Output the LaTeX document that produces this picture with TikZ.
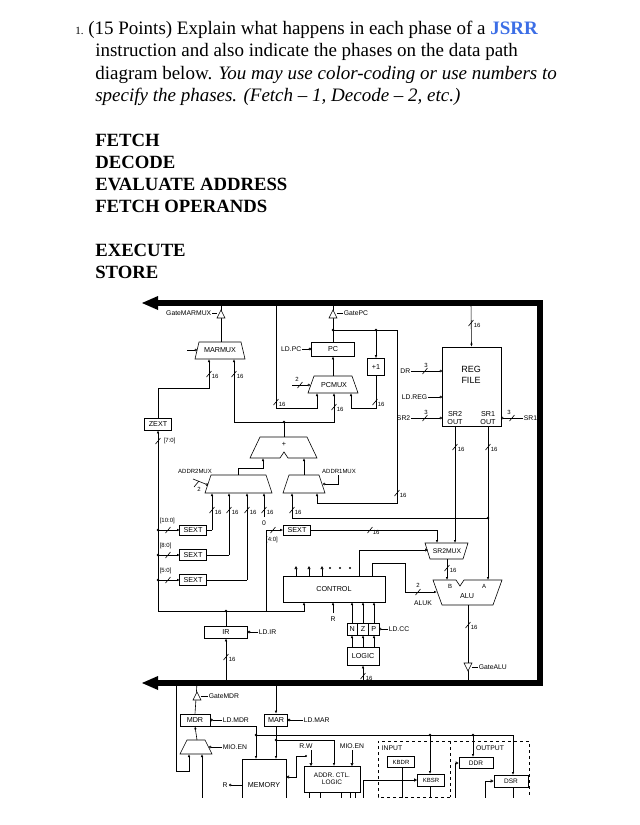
\documentclass[tikz,border=0pt]{standalone}
\usepackage{fontspec}
\setmainfont{Liberation Serif}
\newfontfamily\dgf{Liberation Sans}
\usetikzlibrary{arrows.meta}
\definecolor{jblue}{RGB}{60,110,230}
\newcommand\bwid[3]{\draw (#1,#2)+(-2.5,3)--+(2.5,-3); \path (#1,#2) node[wl,anchor=west,xshift=2pt,yshift=-2pt]{#3};}
\newcommand\gup[2]{\draw[fill=white] (#1-4,#2+4)--(#1+4,#2+4)--(#1,#2-4)--cycle;}
\newcommand\gdn[2]{\draw[fill=white] (#1-4,#2-4)--(#1+4,#2-4)--(#1,#2+4)--cycle;}
\begin{document}
\begin{tikzpicture}[x=1pt,y=-1pt,line width=0.6pt,
 lbl/.style={font=\dgf\fontsize{6.8}{7.5}\selectfont,inner sep=0.5pt},
 wl/.style={font=\dgf\fontsize{6}{6.5}\selectfont,inner sep=0.5pt},
 box/.style={draw,font=\dgf\fontsize{7.2}{8}\selectfont,inner sep=0pt},
 ar/.style={-{Latex[length=3pt,width=2.5pt]}},
 oc/.style={-{Circle[open,length=2.6pt,width=2.6pt]}},
 ot/.style={-{Triangle[open,length=3pt,width=3pt]}},
 hd/.style={font=\fontsize{19}{22}\selectfont,anchor=west,inner sep=0pt},
 st/.style={font=\bfseries\fontsize{18.7}{21}\selectfont,anchor=west,inner sep=0pt}]
\useasboundingbox (0,0) rectangle (640,825);
\fill[white] (0,0) rectangle (640,825);
% heading
\node[anchor=west,inner sep=0pt,font=\fontsize{11}{12}\selectfont] (n1) at (75,31) {1.};
\node[hd] (h1) at (88,30) {(15 Points) Explain what happens in each phase of a \textcolor{jblue}{\textbf{JSRR}}};
\node[hd] (h2) at (95,52) {instruction and also indicate the phases on the data path};
\node[hd] (h3) at (95,75) {diagram below. \textit{You may use color-coding or use numbers to}};
\node[hd] (h4) at (95,97) {\textit{specify the phases. (Fetch -- 1, Decode -- 2, etc.)}};
\node[st] (s1) at (95,140) {FETCH};
\node[st] (s2) at (95,162) {DECODE};
\node[st] (s3) at (95,184) {EVALUATE ADDRESS};
\node[st] (s4) at (95,206) {FETCH OPERANDS};
\node[st] (s5) at (95,250) {EXECUTE};
\node[st] (s6) at (95,272) {STORE};
% bus
\draw[line width=5.5pt] (152,303)--(540,303)--(540,683)--(152,683);
\fill (142,303)--(158,296)--(158,310)--cycle;
\fill (142,683)--(158,676)--(158,690)--cycle;
% MARMUX
\draw (195,359)--(199,342)--(241,342)--(245,359)--cycle;
\node[box,draw=none] (marmux) at (220,350.5) {MARMUX};
\draw (221,303)--(221,342); \gup{221}{314}
\node[lbl,anchor=east] (gmm) at (212,313) {GateMARMUX}; \draw (212,313)--(217,313);
\draw[oc] (187,350)--(197,350);
\node[box,minimum width=27pt,minimum height=12pt] (zext) at (158,424) {ZEXT};
\draw[ar] (zext.north)--(158,388)--(209,388)--(209,359); \bwid{209}{374}{16}
\draw[ar] (284,422)--(234,422)--(234,359); \bwid{234}{374}{16}
% PC
\node[box,minimum width=43pt,minimum height=14pt] (pc) at (333,349) {PC};
\draw (333,303)--(pc.north); \gup{333}{314}
\node[lbl,anchor=west] (gpc) at (343,313) {GatePC}; \draw (337,313)--(343,313);
\node[lbl,anchor=east] (ldpc) at (302,349) {LD.PC}; \draw[oc] (302,349)--(pc.west);
\node[box,minimum width=17pt,minimum height=17pt] (p1) at (376,367) {+1};
\fill (333,330) circle (1.4); \fill (376,330) circle (1.4);
\draw (333,330)--(397,330)--(397,503)--(317,503); \draw[ar] (317,503)--(317,493); \bwid{397}{493}{16}
\draw[ar] (376,330)--(p1.north);
\draw (308,393)--(314,376)--(352,376)--(358,393)--cycle;
\node[box,draw=none] (pcmux) at (334,385) {PCMUX};
\draw[ar] (333,376)--(pc.south);
\draw[oc] (292,385)--(310,385); \bwid{300}{385}{}\node[wl] at (297,379){2};
\draw[ar] (p1.south)--(376,408)--(351,408)--(351,393); \bwid{375}{402}{16}
\draw[ar] (276,303)--(276,408)--(317,408)--(317,393); \bwid{276}{402}{16}
\draw[ar] (284,422)--(334,422)--(334,393); \bwid{334}{407}{16}
\fill (284,422) circle (1.4);
% adder
\draw (250,458)--(260,437)--(307,437)--(317,458)--(288,458)--(284,452)--(280,458)--cycle;
\node[box,draw=none] (plus) at (284,444) {+};
\draw (284,422)--(284,437);
% ADDR2MUX / ADDR1MUX
\draw (205,493)--(211,475)--(266,475)--(272,493)--cycle;
\draw (283,493)--(289,475)--(319,475)--(325,493)--cycle;
\draw[ar] (238,475)--(238,468)--(263,468)--(263,458);
\draw[ar] (304,475)--(304,458);
\node[wl] (a2l) at (195,471) {ADDR2MUX};
\node[wl] (a1l) at (339,471) {ADDR1MUX};
\draw[oc] (193,479)--(208,485); \node[wl] at (199,489){2}; \draw (194,487)--(199,481);
\draw[oc] (338,475)--(338,484)--(323,484);
% REG FILE
\node[box,minimum width=59pt,minimum height=79pt] (rf) at (471.5,386.5) {};
\node[box,draw=none,font=\dgf\fontsize{9}{11}\selectfont,align=center] at (471,375) {REG\\FILE};
\node[box,draw=none,align=center] at (455,418) {SR2\\OUT};
\node[box,draw=none,align=center] at (488,418) {SR1\\OUT};
\draw[ar] (471,303)--(rf.north); \bwid{471}{323}{16}
\node[lbl,anchor=east] (dr) at (411,371) {DR}; \draw[oc] (411,371)--(442,371); \bwid{425}{371}{}\node[wl] at (426,365){3};
\node[lbl,anchor=east] (ldreg) at (428,397) {LD.REG}; \draw[oc] (428,397)--(442,397);
\node[lbl,anchor=east] (sr2) at (411,418) {SR2}; \draw[oc] (411,418)--(442,418); \bwid{425}{418}{}\node[wl] at (426,412){3};
\node[lbl,anchor=west] (sr1) at (523,418) {SR1}; \draw[oc] (523,418)--(501,418); \bwid{512}{418}{}\node[wl] at (509,412){3};
% SEXTs and IR bus
\node[box,minimum width=27pt,minimum height=10pt] (sx1) at (193,530) {SEXT};
\node[box,minimum width=27pt,minimum height=11pt] (sx2) at (193,555) {SEXT};
\node[box,minimum width=27pt,minimum height=11pt] (sx3) at (193,580) {SEXT};
\node[box,minimum width=27pt,minimum height=10pt] (sx4) at (297,530) {SEXT};
\draw (sx1.east)--(212,530); \draw[ar] (212,530)--(212,493);
\draw (sx2.east)--(229,555); \draw[ar] (229,555)--(229,493);
\draw (sx3.east)--(247,580); \draw[ar] (247,580)--(247,493);
\draw[ar] (264,517)--(264,493); \node[lbl] at (264,523){0};
\foreach \yy/\lb in {530/{[10:0]},555/{[8:0]},580/{[5:0]}}{
 \fill (158,\yy) circle (1.4); \draw[ar] (158,\yy)--(180,\yy); \bwid{168}{\yy}{}
 \node[wl,anchor=west] at (159,\yy-9) {\lb};}
\foreach \xx in {212,229,247,264,292}{\bwid{\xx}{510}{16}}
\node[box,minimum width=43pt,minimum height=12pt] (ir) at (226,632) {IR};
\fill (226,611) circle (1.4);
\draw[ar] (ir.north)--(226,611)--(158,611)--(zext.south); \node[wl,anchor=west] at (163,441){[7:0]}; \bwid{158}{441}{}
\draw[ar] (226,611)--(304,611)--(304,602);
\draw[ar] (266,611)--(266,530)--(sx4.west); \bwid{273}{530}{}\node[wl] at (272,540){[4:0]};
\node[lbl,anchor=west] (ldir) at (258,632) {LD.IR}; \draw[oc] (258,632)--(ir.east);
\draw[ar] (226,683)--(ir.south); \bwid{226}{657}{16}
\fill (488,518) circle (1.4);
\draw[ar] (488,518)--(292,518)--(292,493);
% SR2MUX / ALU
\draw (425,543)--(468,543)--(463,559)--(430,559)--cycle;
\node[lbl] (sr2mux) at (447,551) {SR2MUX};
\draw[ar] (sx4.east)--(437,530)--(437,543); \bwid{370}{530}{16}
\draw[ar] (455,426)--(455,543); \bwid{455}{447}{16}
\draw[ar] (488,426)--(488,580); \bwid{488}{447}{16}
\draw (433,580)--(456,580)--(460,586)--(464,580)--(502,580)--(493,605)--(442,605)--cycle;
\node[wl] at (450,586){B}; \node[wl] at (484,586){A};
\node[box,draw=none] (alu) at (467,596) {ALU};
\draw[ar] (447,559)--(447,580); \bwid{447}{568}{16}
% CONTROL
\node[box,minimum width=102pt,minimum height=26pt] (ctl) at (334,589) {CONTROL};
\foreach \xx in {296,309,322}{\draw[ot] (\xx,576)--(\xx,566);}
\foreach \xx in {330,340,350}{\fill (\xx,568) circle (1.2);}
\draw[ot] (359,576)--(359,550)--(428,550);
\draw[ar] (372,576)--(372,563)--(405,563)--(405,592)--(437,592); \bwid{418}{592}{}\node[wl] at (418,585){2};
\node[lbl] (aluk) at (423,603){ALUK};
\draw[ar] (333,613)--(333,602); \node[lbl] at (333,619){R};
\node[box,minimum width=10.6pt,minimum height=12pt] (nn) at (352.3,629) {N};
\node[box,minimum width=10.6pt,minimum height=12pt] (zz) at (363,629) {Z};
\node[box,minimum width=10.6pt,minimum height=12pt] (pp) at (373.7,629) {P};
\node[box,minimum width=32pt,minimum height=18pt] (logic) at (363,656) {LOGIC};
\foreach \xx in {352,363,374}{\draw[ar] (\xx,623)--(\xx,602); \draw[ar] (\xx,647)--(\xx,635);}
\node[lbl,anchor=west] (ldcc) at (388,629) {LD.CC}; \draw[oc] (388,629)--(379,629);
\draw[ar] (363,683)--(logic.south); \bwid{363}{676}{16}
\draw (468,605)--(468,683); \bwid{468}{625}{16}\gdn{468}{667}
\node[lbl,anchor=west] (galu) at (478,667){GateALU}; \draw (472,667)--(478,667);
% bottom part
\begin{scope}
\clip (140,686) rectangle (560,797);
\node[box,minimum width=30pt,minimum height=12pt] (mdr) at (195,720) {MDR};
\node[box,minimum width=23pt,minimum height=12pt] (mar) at (276,720) {MAR};
\draw (197,683)--(mdr.north); \gup{197}{696}
\node[lbl,anchor=west] (gmdr) at (208,696){GateMDR}; \draw (201,696)--(208,696);
\node[lbl,anchor=west] (ldmdr) at (222,720){LD.MDR}; \draw[oc] (222,720)--(mdr.east);
\node[lbl,anchor=west] (ldmar) at (303,720){LD.MAR}; \draw[oc] (303,720)--(mar.east);
\draw[ar] (276,683)--(mar.north);
\draw (180,754)--(187,740)--(205,740)--(212,754)--cycle;
\draw[ar] (197,740)--(mdr.south);
\node[lbl,anchor=west] (mioen) at (222,747){MIO.EN}; \draw[oc] (222,747)--(209,747);
\draw[ar] (176,683)--(176,771)--(189,771)--(189,754);
\draw[ar] (202,800)--(202,754);
\node[box,minimum width=44pt,minimum height=40pt,anchor=north west] (mem) at (242,759) {};
\node[box,draw=none] at (264,785){MEMORY};
\node[lbl] (rr) at (225,785){R}; \draw[oc] (242,785)--(229,785);
\node[box,minimum width=56pt,minimum height=26pt,align=center,font=\dgf\fontsize{6.5}{7}\selectfont] (actl) at (332,779) {ADDR. CTL.\\LOGIC};
\fill (276,740) circle (1.4);
\draw[ar] (mar.south)--(276,759); \draw[ar] (276,740)--(334,740)--(334,766);
\fill (256,735) circle (1.4); \fill (430,735) circle (1.4); \fill (473,735) circle (1.4);
\draw (210,726)--(256,726)--(256,735);
\draw[ar] (256,735)--(256,759);
\draw (256,735)--(513,735); \draw[ar] (513,735)--(513,775);
\draw[ar] (430,735)--(430,774); \draw[ar] (473,735)--(473,757);
\node[lbl] (rw) at (306,746){R.W}; \node[lbl] (mioen2) at (352,746){MIO.EN};
\draw[ot] (311,750)--(311,766); \draw[ot] (352,750)--(352,766);
\fill (306,756) circle (1.2);
\draw[ot] (306,756)--(296,756)--(296,777)--(286,777);
\draw[dashed] (450,797)--(378,797)--(378,741)--(529,741)--(529,797);
\draw[dashed] (450,741)--(450,797);
\node[lbl] at (392,748){INPUT}; \node[lbl] at (490,748){OUTPUT};
\node[box,minimum width=27pt,minimum height=11pt,font=\dgf\fontsize{6}{6}\selectfont] (kbdr) at (401,762) {KBDR};
\node[box,minimum width=27pt,minimum height=12pt,font=\dgf\fontsize{6}{6}\selectfont] (kbsr) at (431,780) {KBSR};
\node[box,minimum width=34pt,minimum height=11pt,font=\dgf\fontsize{6.5}{6}\selectfont] (ddr) at (476,763) {DDR};
\node[box,minimum width=34pt,minimum height=12pt,font=\dgf\fontsize{6.5}{6}\selectfont] (dsr) at (511,781) {DSR};
\draw[ot] (363,800)--(363,780)--(kbsr.west);
\draw[ot] (455,800)--(455,763)--(ddr.west);
\draw[ot] (485,800)--(485,781)--(dsr.west);
\draw (402,767)--(402,800); \draw (430,786)--(430,800); \draw (513,787)--(513,800);
\foreach \xx in {309,320,341,350,355}{\draw (\xx,792)--(\xx,800);}
\end{scope}
\end{tikzpicture}
\end{document}
